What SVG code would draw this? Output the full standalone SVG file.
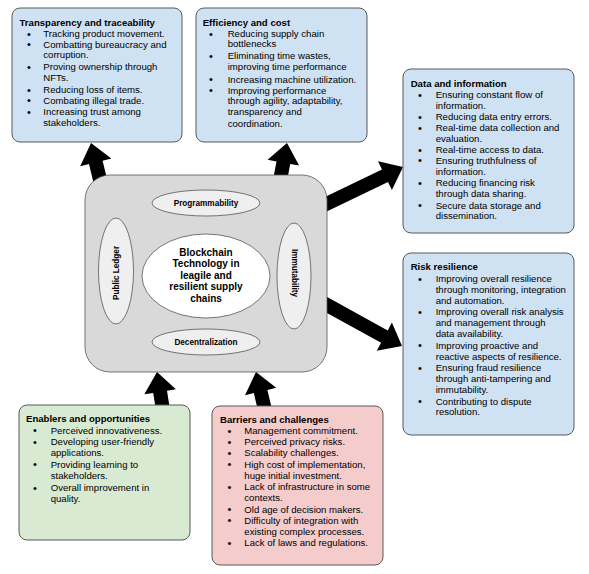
<svg xmlns="http://www.w3.org/2000/svg" width="589" height="574" viewBox="0 0 589 574">
<style>
text{font-family:"Liberation Sans",Arial,sans-serif;fill:#000}
.box{stroke:#595959;stroke-width:1}
.blue{fill:#cfe2f3}
.green{fill:#d9ead3}
.red{fill:#f4cccc}
.t{font-weight:bold;font-size:9.6px}
.i{font-size:9.6px}
.b{font-size:11px;text-anchor:middle}
.ell{fill:#efefef;stroke:#555;stroke-width:0.8}
.el{font-weight:bold;font-size:8.2px;text-anchor:middle}
.c{font-weight:bold;font-size:10px;text-anchor:middle}
.arr{fill:#000}
</style>
<rect width="589" height="574" fill="#fff"/>
<g id="connectors">
<polygon class="arr" points="108.8,186.3 102.6,160.8 111.3,158.6 91,143 80.2,166.2 89,164.1 95.2,189.7"/>
<polygon class="arr" points="285.9,187.3 290.2,163.9 299.1,165.6 287,143 267.6,159.7 276.5,161.4 272.1,184.7"/>
<polygon class="arr" points="321,214.3 388,182 391.9,190.1 403,167 378,161.3 382,169.4 315,201.7"/>
<polygon class="arr" points="314.7,306.2 381.1,342.7 376.8,350.7 402,346 391.9,322.5 387.7,330.4 321.3,293.8"/>
<polygon class="arr" points="169.9,408.9 167,390.7 175.9,389.3 157,372 144.3,394.3 153.2,392.9 156.1,411.1"/>
<polygon class="arr" points="271.8,408.4 267.4,389.9 276.2,387.8 256,372 245,395.2 253.8,393.1 258.2,411.6"/>
</g>
<g id="center">
<rect x="85" y="175" width="242" height="197" rx="25" fill="#d9d9d9" stroke="#555" stroke-width="0.8"/>
<g id="programmability"><ellipse class="ell" cx="206" cy="203" rx="54" ry="13"/><text class="el" x="206" y="206.2">Programmability</text></g>
<g id="decentralization"><ellipse class="ell" cx="206" cy="342" rx="54" ry="13"/><text class="el" x="206" y="344.9">Decentralization</text></g>
<g id="public-ledger"><ellipse class="ell" cx="116" cy="271" rx="17.5" ry="53"/><text class="el" transform="translate(119,273) rotate(-90)" x="0" y="0">Public Ledger</text></g>
<g id="immutability"><ellipse class="ell" cx="294" cy="276" rx="17" ry="53"/><text class="el" transform="translate(292,273) rotate(90)" x="0" y="0">Immutability</text></g>
<g id="core"><ellipse cx="206" cy="276" rx="64" ry="42" fill="#fff" stroke="#555" stroke-width="0.8"/>
<text class="c" x="206" y="255.5">Blockchain</text>
<text class="c" x="206" y="267">Technology in</text>
<text class="c" x="206" y="278.5">leagile and</text>
<text class="c" x="206" y="290">resilient supply</text>
<text class="c" x="206" y="301.5">chains</text></g>
</g>
<g id="transparency">
<rect class="box blue" x="12" y="8" width="170" height="134" rx="8"/>
<text class="t" x="19.5" y="26">Transparency and traceability</text>
<text class="b" x="29" y="37.5">•</text><text class="i" x="43.3" y="37">Tracking product movement.</text>
<text class="b" x="29" y="48">•</text><text class="i" x="43.3" y="47.5">Combatting bureaucracy and</text>
<text class="i" x="43.3" y="58">corruption.</text>
<text class="b" x="29" y="70.5">•</text><text class="i" x="43.3" y="70">Proving ownership through</text>
<text class="i" x="43.3" y="80.5">NFTs.</text>
<text class="b" x="29" y="93.5">•</text><text class="i" x="43.3" y="93">Reducing loss of items.</text>
<text class="b" x="29" y="104">•</text><text class="i" x="43.3" y="103.5">Combating illegal trade.</text>
<text class="b" x="29" y="115.5">•</text><text class="i" x="43.3" y="115">Increasing trust among</text>
<text class="i" x="43.3" y="125.5">stakeholders.</text>
</g>
<g id="efficiency">
<rect class="box blue" x="196" y="8" width="171" height="134" rx="8"/>
<text class="t" x="202.7" y="25.5">Efficiency and cost</text>
<text class="b" x="211" y="37.5">•</text><text class="i" x="227.7" y="37">Reducing supply chain</text>
<text class="i" x="227.7" y="47">bottlenecks</text>
<text class="b" x="211" y="59.5">•</text><text class="i" x="227.7" y="59">Eliminating time wastes,</text>
<text class="i" x="227.7" y="70">improving time performance</text>
<text class="b" x="211" y="83">•</text><text class="i" x="227.7" y="82.5">Increasing machine utilization.</text>
<text class="b" x="211" y="94">•</text><text class="i" x="227.7" y="93.5">Improving performance</text>
<text class="i" x="227.7" y="104">through agility, adaptability,</text>
<text class="i" x="227.7" y="115">transparency and</text>
<text class="i" x="227.7" y="126.5">coordination.</text>
</g>
<g id="data">
<rect class="box blue" x="403" y="69" width="171" height="164" rx="8"/>
<text class="t" x="410.7" y="87">Data and information</text>
<text class="b" x="420" y="98.5">•</text><text class="i" x="435.7" y="98">Ensuring constant flow of</text>
<text class="i" x="435.7" y="108.5">information.</text>
<text class="b" x="420" y="120.5">•</text><text class="i" x="435.7" y="120">Reducing data entry errors.</text>
<text class="b" x="420" y="131.5">•</text><text class="i" x="435.7" y="131">Real-time data collection and</text>
<text class="i" x="435.7" y="141.5">evaluation.</text>
<text class="b" x="420" y="153.5">•</text><text class="i" x="435.7" y="153">Real-time access to data.</text>
<text class="b" x="420" y="164">•</text><text class="i" x="435.7" y="163.5">Ensuring truthfulness of</text>
<text class="i" x="435.7" y="174.5">information.</text>
<text class="b" x="420" y="186.5">•</text><text class="i" x="435.7" y="186">Reducing financing risk</text>
<text class="i" x="435.7" y="197">through data sharing.</text>
<text class="b" x="420" y="209">•</text><text class="i" x="435.7" y="208.5">Secure data storage and</text>
<text class="i" x="435.7" y="219">dissemination.</text>
</g>
<g id="risk">
<rect class="box blue" x="403" y="253" width="171" height="182" rx="8"/>
<text class="t" x="410.7" y="270">Risk resilience</text>
<text class="b" x="420" y="282.5">•</text><text class="i" x="435.7" y="282">Improving overall resilience</text>
<text class="i" x="435.7" y="292.5">through monitoring, integration</text>
<text class="i" x="435.7" y="303.5">and automation.</text>
<text class="b" x="420" y="315.5">•</text><text class="i" x="435.7" y="315">Improving overall risk analysis</text>
<text class="i" x="435.7" y="326">and management through</text>
<text class="i" x="435.7" y="337">data availability.</text>
<text class="b" x="420" y="349">•</text><text class="i" x="435.7" y="348.5">Improving proactive and</text>
<text class="i" x="435.7" y="359.5">reactive aspects of resilience.</text>
<text class="b" x="420" y="371.5">•</text><text class="i" x="435.7" y="371">Ensuring fraud resilience</text>
<text class="i" x="435.7" y="382">through anti-tampering and</text>
<text class="i" x="435.7" y="393">immutability.</text>
<text class="b" x="420" y="405">•</text><text class="i" x="435.7" y="404.5">Contributing to dispute</text>
<text class="i" x="435.7" y="415">resolution.</text>
</g>
<g id="enablers">
<rect class="box green" x="19" y="405" width="171" height="135" rx="8"/>
<text class="t" x="26" y="422">Enablers and opportunities</text>
<text class="b" x="35" y="434">•</text><text class="i" x="50.7" y="433.5">Perceived innovativeness.</text>
<text class="b" x="35" y="445.5">•</text><text class="i" x="50.7" y="445">Developing user-friendly</text>
<text class="i" x="50.7" y="456">applications.</text>
<text class="b" x="35" y="468">•</text><text class="i" x="50.7" y="467.5">Providing learning to</text>
<text class="i" x="50.7" y="479">stakeholders.</text>
<text class="b" x="35" y="491.5">•</text><text class="i" x="50.7" y="491">Overall improvement in</text>
<text class="i" x="50.7" y="502">quality.</text>
</g>
<g id="barriers">
<rect class="box red" x="212" y="406" width="171" height="159" rx="8"/>
<text class="t" x="220" y="422.5">Barriers and challenges</text>
<text class="b" x="229.5" y="434.5">•</text><text class="i" x="244.3" y="434">Management commitment.</text>
<text class="b" x="229.5" y="445.5">•</text><text class="i" x="244.3" y="445">Perceived privacy risks.</text>
<text class="b" x="229.5" y="456.5">•</text><text class="i" x="244.3" y="456">Scalability challenges.</text>
<text class="b" x="229.5" y="468">•</text><text class="i" x="244.3" y="467.5">High cost of implementation,</text>
<text class="i" x="244.3" y="478.5">huge initial investment.</text>
<text class="b" x="229.5" y="490.5">•</text><text class="i" x="244.3" y="490">Lack of infrastructure in some</text>
<text class="i" x="244.3" y="501">contexts.</text>
<text class="b" x="229.5" y="513">•</text><text class="i" x="244.3" y="512.5">Old age of decision makers.</text>
<text class="b" x="229.5" y="524">•</text><text class="i" x="244.3" y="523.5">Difficulty of integration with</text>
<text class="i" x="244.3" y="535">existing complex processes.</text>
<text class="b" x="229.5" y="546.5">•</text><text class="i" x="244.3" y="546">Lack of laws and regulations.</text>
</g>
</svg>
